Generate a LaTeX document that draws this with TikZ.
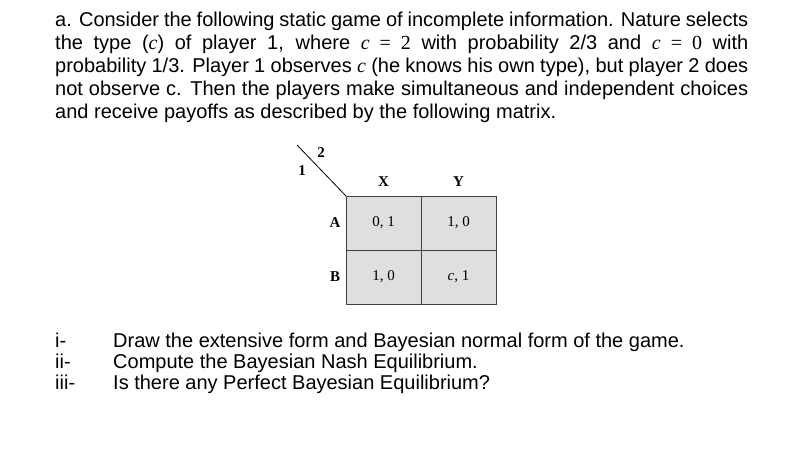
\documentclass[tikz,border=0pt]{standalone}
\usepackage{fontspec}
\setmainfont{Liberation Sans}
\newfontfamily\serifm{Liberation Serif}
\begin{document}
\begin{tikzpicture}[x=1pt,y=-1pt,
  txt/.style={inner sep=0pt,anchor=north west,font=\fontsize{20}{23}\selectfont},
  cellv/.style={font=\serifm\fontsize{15}{17}\selectfont},
  lab/.style={font=\serifm\bfseries\fontsize{15}{17}\selectfont}]
\useasboundingbox (0,0) rectangle (803,472);
\node[txt,text width=693pt,align=justify] (para) at (55,12) {a. Consider the following static game of incomplete information. Nature selects\linebreak the type ({\serifm\itshape c}) of player 1, where {\serifm\itshape c}\hspace{0.5em}{\serifm =}\hspace{0.5em}{\serifm 2} with probability 2/3 and {\serifm\itshape c}\hspace{0.5em}{\serifm =}\hspace{0.5em}{\serifm 0} with\linebreak probability 1/3. Player 1 observes {\serifm\itshape c} (he knows his own type), but player 2 does\linebreak not observe c. Then the players make simultaneous and independent choices\linebreak and receive payoffs as described by the following matrix.};
\fill[gray!25] (346,196) rectangle (496,304);
\draw[line width=1pt,gray!50!black] (346,196) rectangle (496,304) (421,196) -- (421,304) (346,250) -- (496,250);
\draw[line width=0.8pt] (297,145) -- (346,196);
\node[cellv] (ax) at (383.5,223) {0, 1};
\node[cellv] (ay) at (458.5,223) {1, 0};
\node[cellv] (bx) at (383.5,277) {1, 0};
\node[cellv] (by) at (458.5,277) {{\itshape c}, 1};
\node[lab] (X) at (383.5,182) {X};
\node[lab] (Y) at (458.5,182) {Y};
\node[lab] (A) at (335,223) {A};
\node[lab] (B) at (335,277) {B};
\node[lab] (p2) at (321,153) {2};
\node[lab] (p1) at (302,171) {1};
\node[txt] (r1) at (55,333) {i-};
\node[txt] (r2) at (55,354) {ii-};
\node[txt] (r3) at (55,375) {iii-};
\node[txt] (t1) at (113,333) {Draw the extensive form and Bayesian normal form of the game.};
\node[txt] (t2) at (113,354) {Compute the Bayesian Nash Equilibrium.};
\node[txt] (t3) at (113,375) {Is there any Perfect Bayesian Equilibrium?};
\end{tikzpicture}
\end{document}
